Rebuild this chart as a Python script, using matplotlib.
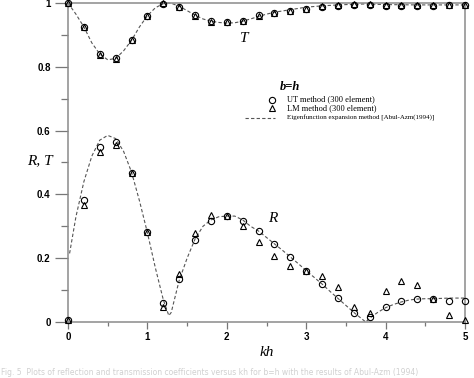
import numpy as np
import matplotlib.pyplot as plt
from matplotlib.ticker import MultipleLocator

# kh sample points for the numerical methods
kh = np.round(np.arange(0, 5.01, 0.2), 2)

# transmission T
T_ut = [1.0, 0.926, 0.839, 0.828, 0.883, 0.958, 0.998, 0.987, 0.961, 0.943,
        0.940, 0.945, 0.961, 0.970, 0.976, 0.981, 0.989, 0.992, 0.995, 0.995,
        0.992, 0.992, 0.992, 0.992, 0.993, 0.993]
T_lm = [1.0, 0.926, 0.837, 0.826, 0.883, 0.958, 0.999, 0.988, 0.960, 0.941,
        0.940, 0.943, 0.959, 0.970, 0.976, 0.981, 0.990, 0.994, 0.996, 0.996,
        0.994, 0.994, 0.994, 0.994, 0.995, 0.995]

# reflection R
R_ut = [0.005, 0.382, 0.549, 0.564, 0.468, 0.282, 0.058, 0.135, 0.257, 0.317,
        0.332, 0.316, 0.285, 0.246, 0.204, 0.161, 0.119, 0.074, 0.029, 0.017,
        0.048, 0.065, 0.072, 0.071, 0.067, 0.067]
R_lm = [0.005, 0.368, 0.533, 0.556, 0.468, 0.282, 0.048, 0.152, 0.278, 0.335,
        0.332, 0.301, 0.251, 0.207, 0.176, 0.161, 0.144, 0.109, 0.048, 0.029,
        0.097, 0.128, 0.115, 0.071, 0.023, 0.006]

# eigenfunction expansion (Abul-Azm 1994)
kh_R = [0.02, 0.1, 0.2, 0.3, 0.4, 0.5, 0.6, 0.7, 0.8, 0.9, 1.0, 1.1, 1.2, 1.27,
        1.3, 1.4, 1.5, 1.6, 1.7, 1.8, 1.9, 2.0, 2.1, 2.2, 2.3, 2.4, 2.5, 2.6,
        2.7, 2.8, 2.9, 3.0, 3.1, 3.2, 3.3, 3.4, 3.5, 3.6, 3.7, 3.75, 3.8, 3.9,
        4.0, 4.1, 4.2, 4.3, 4.4, 4.5, 4.6, 4.7, 4.8, 4.9, 5.0]
R_eig = [0.215, 0.33, 0.44, 0.52, 0.57, 0.585, 0.575, 0.535, 0.47, 0.38, 0.28,
         0.17, 0.07, 0.02, 0.03, 0.13, 0.20, 0.26, 0.30, 0.32, 0.33, 0.332,
         0.332, 0.32, 0.30, 0.285, 0.265, 0.245, 0.225, 0.204, 0.183, 0.161,
         0.14, 0.119, 0.096, 0.074, 0.052, 0.03, 0.01, 0.0, 0.012, 0.03, 0.045,
         0.055, 0.063, 0.069, 0.072, 0.073, 0.073, 0.074, 0.075, 0.075, 0.075]
kh_T = [0.0, 0.1, 0.2, 0.3, 0.4, 0.5, 0.6, 0.7, 0.8, 0.9, 1.0, 1.1, 1.2, 1.27,
        1.3, 1.4, 1.5, 1.6, 1.7, 1.8, 1.9, 2.0, 2.1, 2.2, 2.3, 2.4, 2.5, 2.6,
        2.7, 2.8, 2.9, 3.0, 3.2, 3.4, 3.6, 3.75, 4.0, 4.4, 5.0]
T_eig = [1.0, 0.965, 0.925, 0.875, 0.84, 0.822, 0.826, 0.85, 0.883, 0.925,
         0.96, 0.985, 0.998, 1.0, 0.999, 0.99, 0.976, 0.962, 0.95, 0.943,
         0.939, 0.937, 0.938, 0.943, 0.95, 0.958, 0.965, 0.971, 0.975, 0.979,
         0.983, 0.987, 0.991, 0.994, 0.996, 0.997, 0.995, 0.994, 0.994]


def main():
    fig = plt.figure(figsize=(4.74, 3.78), dpi=100)
    ax = fig.add_axes([68 / 474, 1 - 322 / 378, 397 / 474, 319 / 378])

    dash = dict(color='#555555', lw=0.8, dashes=(3, 2))
    circ = dict(ls='none', marker='o', ms=4.5, mfc='none', mec='black', mew=0.8)
    tri = dict(ls='none', marker='^', ms=5, mfc='none', mec='black', mew=0.8)

    ax.plot(kh_T, T_eig, **dash, clip_on=False)
    ax.plot(kh_R, R_eig, **dash, clip_on=False)
    ax.plot(kh, T_ut, **circ, clip_on=False, zorder=3)
    ax.plot(kh, T_lm, **tri, clip_on=False, zorder=3)
    ax.plot(kh, R_ut, **circ, clip_on=False, zorder=3)
    ax.plot(kh, R_lm, **tri, clip_on=False, zorder=3)

    ax.set_xlim(0, 5)
    ax.set_ylim(0, 1)
    ax.xaxis.set_major_locator(MultipleLocator(1))
    ax.xaxis.set_minor_locator(MultipleLocator(0.5))
    ax.yaxis.set_major_locator(MultipleLocator(0.2))
    ax.yaxis.set_minor_locator(MultipleLocator(0.1))
    ax.set_yticks([0, 0.2, 0.4, 0.6, 0.8, 1.0])
    ax.set_yticklabels(['0', '0.2', '0.4', '0.6', '0.8', '1'])

    for s in ax.spines.values():
        s.set_color('#8a8a8a')
        s.set_linewidth(1.1)
    ax.tick_params(axis='y', which='major', direction='out', length=9.5,
                   width=0.9, color='#777777', pad=3)
    ax.tick_params(axis='y', which='minor', direction='out', length=5,
                   width=0.9, color='#777777')
    ax.tick_params(axis='x', which='major', direction='out', length=5,
                   width=0.9, color='#777777', pad=2)
    ax.tick_params(axis='x', which='minor', direction='out', length=3,
                   width=0.9, color='#777777')
    for lab in ax.get_xticklabels() + ax.get_yticklabels():
        lab.set_fontweight('bold')
        lab.set_fontsize(7)
        lab.set_fontfamily('Liberation Sans')

    serif = 'Liberation Serif'
    ax.set_xlabel('kh', fontsize=11, style='italic', family=serif, labelpad=3)
    ax.text(-0.07, 0.507, 'R, T', transform=ax.transAxes, fontsize=11,
            style='italic', family=serif, ha='center', va='center')
    ax.text(2.22, 0.89, 'T', fontsize=11, style='italic', family=serif,
            ha='center', va='center')
    ax.text(2.58, 0.326, 'R', fontsize=11, style='italic', family=serif,
            ha='center', va='center')

    # legend drawn by hand (markers stacked above the dashed line)
    tr = ax.transAxes
    ax.text((290 - 68) / 397, (322 - 87) / 319, 'b=h', transform=tr,
            fontsize=9, style='italic', weight='bold', family=serif,
            ha='center', va='center')
    ax.plot([(272 - 68) / 397], [(322 - 100) / 319], transform=tr, **circ)
    ax.plot([(272 - 68) / 397], [(322 - 107.5) / 319], transform=tr, **tri)
    ax.plot([(245 - 68) / 397, (275 - 68) / 397],
            [(322 - 118) / 319] * 2, transform=tr, **dash)
    lx = (287 - 68) / 397
    ax.text(lx, (322 - 99.5) / 319, 'UT method (300 element)', transform=tr,
            fontsize=6, family=serif, va='center')
    ax.text(lx, (322 - 108.5) / 319, 'LM method (300 element)', transform=tr,
            fontsize=6, family=serif, va='center')
    ax.text(lx, (322 - 118) / 319,
            'Eigenfunction expansion method [Abul-Azm(1994)]', transform=tr,
            fontsize=5, family=serif, va='center')

    fig.text(0.002, 0.003, 'Fig. 5  Plots of reflection and transmission '
             'coefficients versus kh for b=h with the results of Abul-Azm (1994)',
             fontsize=5.5, color='#d0d0d0', va='bottom', ha='left')

    fig.savefig('out.png', dpi=100)


if __name__ == '__main__':
    main()
